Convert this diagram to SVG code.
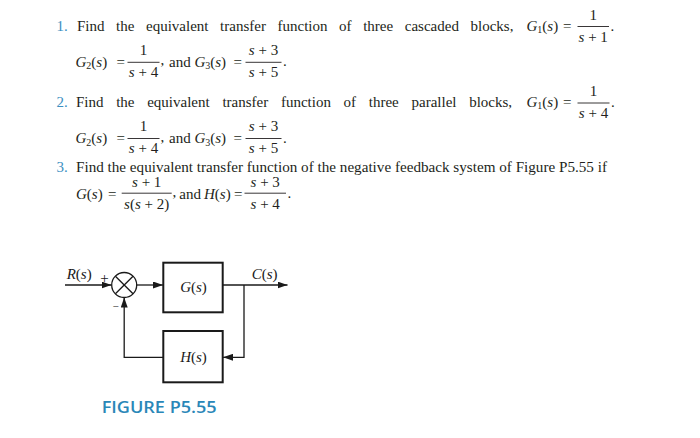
<svg xmlns="http://www.w3.org/2000/svg" width="700" height="438" viewBox="0 0 700 438">
  <style>
    .t { font-family: "Liberation Serif", "Times New Roman", serif; font-size: 15px; fill: #231f20; }
    .i { font-style: italic; }
    .sub { font-size: 10px; }
    .num { fill: #3b8fc2; }
    .bar { stroke: #231f20; stroke-width: 0.9; }
    .box { fill: none; stroke: #1a1a1a; stroke-width: 2; }
    .wire { fill: none; stroke: #1a1a1a; stroke-width: 1.3; }
    .lbl { font-family: "Liberation Serif", "Times New Roman", serif; font-size: 15px; fill: #1a1a1a; }
    .fig { font-family: "Open Sans", "Liberation Sans", sans-serif; font-weight: 600; font-size: 16px; fill: #2a87b8; }
  </style>
  <defs>
    <marker id="arr" markerUnits="userSpaceOnUse" markerWidth="10" markerHeight="7" refX="10" refY="3.5" orient="auto">
      <path d="M0,0 L10,3.5 L0,7 z" fill="#1a1a1a"/>
    </marker>
  </defs>
  <rect width="700" height="438" fill="#ffffff"/>

  <!-- Problem 1 -->
  <g id="problem1">
    <text class="t num" x="56.5" y="30.7">1.</text>
    <text class="t" y="30.7"><tspan x="77">Find</tspan><tspan x="116.1">the</tspan><tspan x="146">equivalent</tspan><tspan x="220.1">transfer</tspan><tspan x="277.5">function</tspan><tspan x="339.1">of</tspan><tspan x="363.2">three</tspan><tspan x="404.8">cascaded</tspan><tspan x="470.5">blocks,</tspan></text>
    <text class="t" x="526.5" y="30.7"><tspan class="i">G</tspan><tspan class="sub" dy="2.5">1</tspan><tspan dy="-2.5">(</tspan><tspan class="i">s</tspan>)</text>
    <text class="t" x="563" y="30.7">=</text>
    <line class="bar" x1="577.5" y1="26.5" x2="609" y2="26.5"/>
    <text class="t" x="593.2" y="19.5" text-anchor="middle">1</text>
    <text class="t" x="593.2" y="41.5" text-anchor="middle"><tspan class="i">s</tspan> + 1</text>
    <text class="t" x="610.5" y="31">.</text>

    <text class="t" x="75.5" y="66.7"><tspan class="i">G</tspan><tspan class="sub" dy="2.5">2</tspan><tspan dy="-2.5">(</tspan><tspan class="i">s</tspan>)</text>
    <text class="t" x="116.5" y="66.7">=</text>
    <line class="bar" x1="127.5" y1="62.3" x2="159.5" y2="62.3"/>
    <text class="t" x="143.5" y="55.3" text-anchor="middle">1</text>
    <text class="t" x="143.5" y="77.3" text-anchor="middle"><tspan class="i">s</tspan> + 4</text>
    <text class="t" x="160.5" y="65">,</text>
    <text class="t" x="169" y="66.7">and <tspan class="i">G</tspan><tspan class="sub" dy="2.5">3</tspan><tspan dy="-2.5">(</tspan><tspan class="i">s</tspan>)</text>
    <text class="t" x="233.5" y="66.7">=</text>
    <line class="bar" x1="245.5" y1="62.3" x2="281.5" y2="62.3"/>
    <text class="t" x="263.5" y="55.3" text-anchor="middle"><tspan class="i">s</tspan> + 3</text>
    <text class="t" x="263.5" y="77.3" text-anchor="middle"><tspan class="i">s</tspan> + 5</text>
    <text class="t" x="283" y="66">.</text>
  </g>

  <!-- Problem 2 -->
  <g id="problem2">
    <text class="t num" x="56.5" y="106.7">2.</text>
    <text class="t" y="106.7"><tspan x="76">Find</tspan><tspan x="116.2">the</tspan><tspan x="147.2">equivalent</tspan><tspan x="222.4">transfer</tspan><tspan x="280.9">function</tspan><tspan x="343.6">of</tspan><tspan x="368.8">three</tspan><tspan x="411.5">parallel</tspan><tspan x="469.2">blocks,</tspan></text>
    <text class="t" x="526.5" y="106.7"><tspan class="i">G</tspan><tspan class="sub" dy="2.5">1</tspan><tspan dy="-2.5">(</tspan><tspan class="i">s</tspan>)</text>
    <text class="t" x="563" y="106.7">=</text>
    <line class="bar" x1="577.5" y1="103" x2="609.5" y2="103"/>
    <text class="t" x="593.5" y="96" text-anchor="middle">1</text>
    <text class="t" x="593.5" y="117.5" text-anchor="middle"><tspan class="i">s</tspan> + 4</text>
    <text class="t" x="611" y="107">.</text>

    <text class="t" x="75.5" y="143.3"><tspan class="i">G</tspan><tspan class="sub" dy="2.5">2</tspan><tspan dy="-2.5">(</tspan><tspan class="i">s</tspan>)</text>
    <text class="t" x="116.5" y="143.3">=</text>
    <line class="bar" x1="127.5" y1="138.5" x2="159.5" y2="138.5"/>
    <text class="t" x="143.5" y="131.3" text-anchor="middle">1</text>
    <text class="t" x="143.5" y="152.5" text-anchor="middle"><tspan class="i">s</tspan> + 4</text>
    <text class="t" x="160.5" y="141.5">,</text>
    <text class="t" x="169" y="143.3">and <tspan class="i">G</tspan><tspan class="sub" dy="2.5">3</tspan><tspan dy="-2.5">(</tspan><tspan class="i">s</tspan>)</text>
    <text class="t" x="233.5" y="143.3">=</text>
    <line class="bar" x1="245.5" y1="138.5" x2="281.5" y2="138.5"/>
    <text class="t" x="263.5" y="131.3" text-anchor="middle"><tspan class="i">s</tspan> + 3</text>
    <text class="t" x="263.5" y="152.5" text-anchor="middle"><tspan class="i">s</tspan> + 5</text>
    <text class="t" x="283" y="142.5">.</text>
  </g>

  <!-- Problem 3 -->
  <g id="problem3">
    <text class="t num" x="56.5" y="171.7">3.</text>
    <text class="t" x="76" y="171.7" textLength="531" lengthAdjust="spacingAndGlyphs">Find the equivalent transfer function of the negative feedback system of Figure P5.55 if</text>
    <text class="t" x="76" y="199"><tspan class="i">G</tspan>(<tspan class="i">s</tspan>)</text>
    <text class="t" x="108" y="199">=</text>
    <line class="bar" x1="121.7" y1="193.2" x2="171.7" y2="193.2"/>
    <text class="t" x="146.7" y="187" text-anchor="middle"><tspan class="i">s</tspan> + 1</text>
    <text class="t" x="146.7" y="208.7" text-anchor="middle"><tspan class="i">s</tspan>(<tspan class="i">s</tspan> + 2)</text>
    <text class="t" x="172.5" y="197.2">,</text>
    <text class="t" x="179.3" y="199">and</text>
    <text class="t" x="204" y="199"><tspan class="i">H</tspan>(<tspan class="i">s</tspan>)</text>
    <text class="t" x="234" y="199">=</text>
    <line class="bar" x1="244.5" y1="193.2" x2="286" y2="193.2"/>
    <text class="t" x="265.2" y="187" text-anchor="middle"><tspan class="i">s</tspan> + 3</text>
    <text class="t" x="265.2" y="208.7" text-anchor="middle"><tspan class="i">s</tspan> + 4</text>
    <text class="t" x="287.5" y="197.7">.</text>
  </g>

  <!-- Block diagram -->
  <g id="connectors">
    <path class="wire" d="M65,285 L111.5,285" marker-end="url(#arr)"/>
    <path class="wire" d="M137,285 L163,285" marker-end="url(#arr)"/>
    <path class="wire" d="M222.7,285 L287.5,285" marker-end="url(#arr)"/>
    <path class="wire" d="M244,285 L244,357.3 L223,357.3" marker-end="url(#arr)"/>
    <path class="wire" d="M163.3,357.3 L124.2,357.3 L124.2,297.5" marker-end="url(#arr)"/>
  </g>

  <g id="summing-junction">
    <circle cx="124.2" cy="285" r="12.5" fill="#ffffff" stroke="#1a1a1a" stroke-width="1.3"/>
    <path d="M115.4,276.2 L133,293.8 M133,276.2 L115.4,293.8" stroke="#1a1a1a" stroke-width="1.3"/>
    <text class="lbl" x="104.5" y="283.3" text-anchor="middle">+</text>
    <text class="lbl" x="115.5" y="309.5" text-anchor="middle" style="font-size:11px">−</text>
  </g>

  <g id="block-G">
    <rect class="box" x="163.3" y="262.7" width="59.4" height="49.6"/>
    <text class="lbl" x="193.5" y="291.5" text-anchor="middle"><tspan class="i">G</tspan>(<tspan class="i">s</tspan>)</text>
  </g>

  <g id="block-H">
    <rect class="box" x="163.3" y="331" width="59.4" height="51.3"/>
    <text class="lbl" x="193.5" y="361.5" text-anchor="middle"><tspan class="i">H</tspan>(<tspan class="i">s</tspan>)</text>
  </g>

  <g id="signal-labels">
    <text class="lbl" x="66.7" y="279.3"><tspan class="i">R</tspan>(<tspan class="i">s</tspan>)</text>
    <text class="lbl" x="251.7" y="279.3"><tspan class="i">C</tspan>(<tspan class="i">s</tspan>)</text>
  </g>

  <text class="fig" x="101.7" y="413.3" textLength="115" lengthAdjust="spacingAndGlyphs">FIGURE P5.55</text>
</svg>
